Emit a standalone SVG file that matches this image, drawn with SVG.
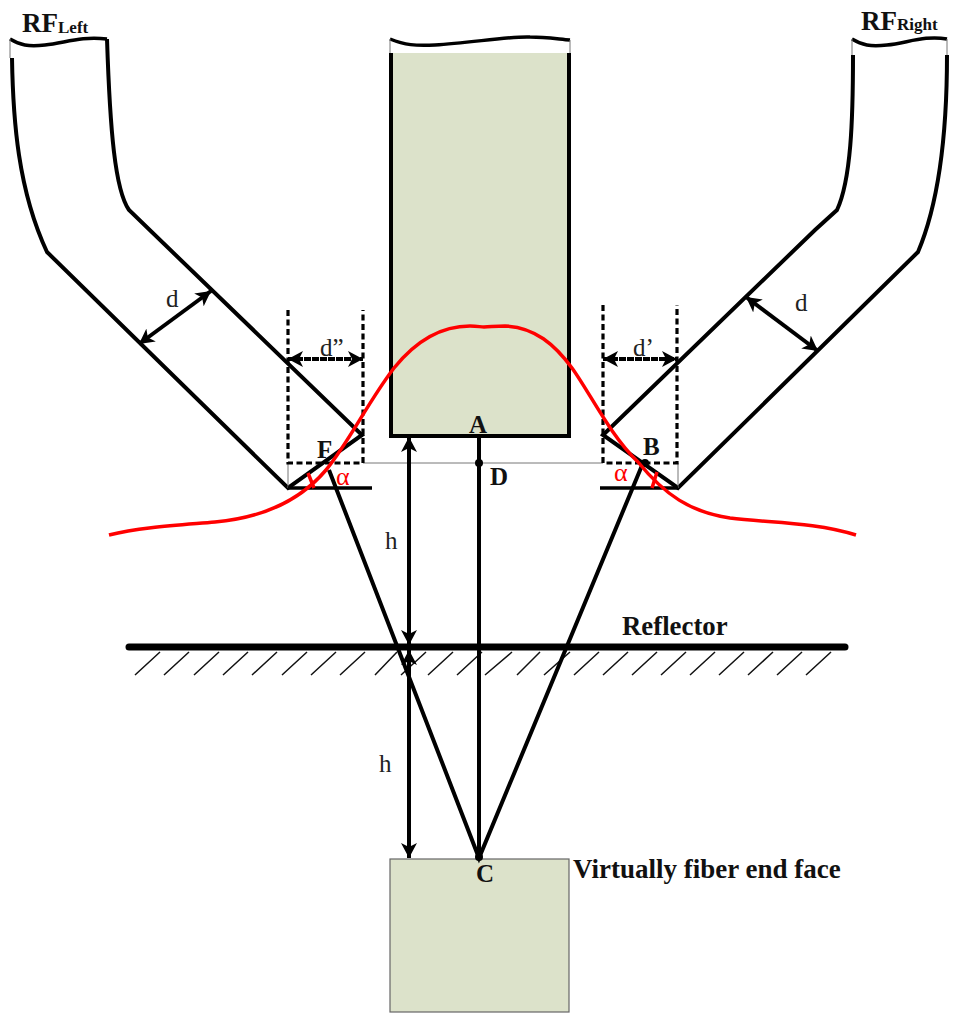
<svg xmlns="http://www.w3.org/2000/svg" width="957" height="1024" viewBox="0 0 957 1024">
<defs>
<marker id="ah" markerUnits="userSpaceOnUse" markerWidth="18" markerHeight="16" refX="15" refY="8" orient="auto-start-reverse"><path d="M0 0L15 8L0 16L4 8Z" fill="#000"/></marker>
</defs>
<style>
.k{fill:none;stroke:#000;stroke-width:4}
.m{fill:none;stroke:#000;stroke-width:3.5}
.da{fill:none;stroke:#000;stroke-width:3.2;stroke-dasharray:6 3.5}
.t{fill:none;stroke:#777;stroke-width:1}
.h{fill:none;stroke:#111;stroke-width:1.5}
.ar{fill:none;stroke:#000;stroke-width:4;marker-start:url(#ah);marker-end:url(#ah)}
.ad{fill:none;stroke:#000;stroke-width:4;stroke-dasharray:7 1;marker-start:url(#ah);marker-end:url(#ah)}
.r{fill:none;stroke:#f00;stroke-width:3.5}
.face{fill:#dce2ca}
text{font-family:"Liberation Serif","Times New Roman",serif}
.b{font-weight:bold;fill:#111}
.n{fill:#222}
</style>
<rect width="957" height="1024" fill="#fff"/>
<g id="fiber-center">
<rect class="face" x="391" y="53" width="178" height="383"/>
<path class="k" d="M391 53V436H569V53"/>
<path class="m" d="M390 39C405 45 415 46 435 45C470 43 510 36 530 37C545 37 558 39 570 40"/>
<path class="t" d="M390 39V53M570 40V53"/>
</g>
<g id="fiber-virtual">
<rect class="face" x="390" y="859" width="179" height="153" stroke="#666" stroke-width="1.2"/>
</g>
<g id="fiber-left">
<path class="k" d="M12 58C13 120 18 190 47 252L288 488L362 435L129 210C115 190 110 130 107 39"/>
<path class="m" d="M10 39C20 45 28 47 45 45C65 43 80 36 107 39"/>
<path class="t" d="M10 39V58"/>
</g>
<g id="fiber-right">
<path class="k" d="M853 55C853 120 851 180 837 210L815 230L603 435L678 488L918 252C940 200 947 130 947 55"/>
<path class="m" d="M852 39C862 45 870 47 887 45C907 43 925 35 947 39"/>
<path class="t" d="M852 39V55M947 39V55"/>
</g>
<g id="reflector">
<path d="M129 647H845" fill="none" stroke="#000" stroke-width="7" stroke-linecap="round"/>
<path class="h" d="M135 675L160 652M164 675L189 652M194 675L219 652M223 675L248 652M252 675L277 652M282 675L307 652M311 675L336 652M340 675L365 652M375 675L397 652M401 675L426 652M428 675L453 652M457 675L482 652M485 675L512 652M517 675L540 652M544 675L570 652M574 675L599 652M603 675L628 652M632 675L657 652M661 675L686 652M690 675L715 652M719 675L744 652M748 675L773 652M777 675L802 652M806 675L831 652"/>
</g>
<g id="connectors">
<path class="t" d="M363 463H603M288 463V488M678 463V488"/>
<path class="da" d="M288 310V463H363V310M603 305V463H677V305"/>
<path class="m" d="M288 488H372M600 488H678"/>
<path class="k" d="M479 436V858"/>
<path class="k" d="M329 470L479 858L643 463"/>
<circle cx="479" cy="463" r="4"/>
<circle cx="479" cy="857" r="4"/>
<circle cx="645" cy="463" r="4"/>
<path class="ar" d="M139 344L211 291"/>
<path class="ar" d="M746 297L818 351"/>
<path class="ad" d="M288 359H363"/>
<path class="ad" d="M603 359H677"/>
<path class="ar" d="M409 437V645"/>
<path class="ar" d="M409 650V858"/>
</g>
<g id="profile">
<path class="r" d="M109 535C140 527 180 525 215 522C260 518 298 503 326 470C349 442 368 402 394 368C415 342 440 326 470 326C478 326 480 327 484 327C490 327 495 326 505 326C535 327 555 345 572 368C590 393 610 435 638 462C665 495 690 512 730 518C770 523 815 522 856 535"/>
<path class="r" d="M308 473L314 488M657 472L652 488"/>
</g>
<g id="labels">
<text class="b" x="22" y="32" font-size="27">RF</text>
<text class="b" x="58" y="33" font-size="17">Left</text>
<text class="b" x="861" y="30" font-size="27">RF</text>
<text class="b" x="897" y="30" font-size="17">Right</text>
<text class="b" x="469" y="433" font-size="25">A</text>
<text class="b" x="643" y="455" font-size="25">B</text>
<text class="b" x="490" y="485" font-size="25">D</text>
<text class="b" x="317" y="458" font-size="25">F</text>
<text class="b" x="476" y="882" font-size="25">C</text>
<text class="b" x="622" y="635" font-size="26.8">Reflector</text>
<text class="b" x="573" y="878" font-size="27">Virtually fiber end face</text>
<text class="n" x="166" y="307" font-size="25">d</text>
<text class="n" x="795" y="311" font-size="25">d</text>
<text class="n" x="320" y="356" font-size="25">d”</text>
<text class="n" x="633" y="356" font-size="25">d’</text>
<text class="n" x="385" y="549" font-size="25">h</text>
<text class="n" x="379" y="772" font-size="25">h</text>
<text x="336" y="485" font-size="26" fill="#f00">α</text>
<text x="614" y="481" font-size="26" fill="#f00">α</text>
</g>
</svg>
